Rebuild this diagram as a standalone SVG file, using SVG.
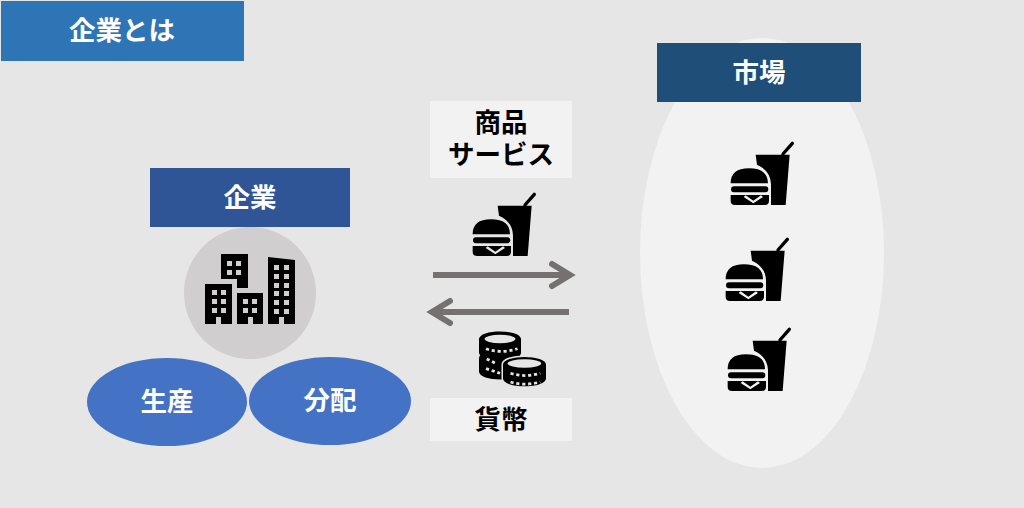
<svg xmlns="http://www.w3.org/2000/svg" width="1024" height="508" viewBox="0 0 1024 508">
<style>
text{font-family:"Noto Sans CJK JP","Noto Sans",sans-serif;font-size:26.500px;font-weight:700;text-anchor:middle}
.w{fill:#fff}.k{fill:#000}
.conn{fill:none;stroke:#767171;stroke-width:6;stroke-linejoin:miter}
.head{stroke-linecap:round}
.dash{fill:none;stroke:#e6e6e6;stroke-width:8;stroke-dasharray:9 8}
</style>
<defs>
<g id="meal" transform="scale(.3333)">
<path fill-rule="evenodd" d="M143 148Q143 103 198 103Q255 103 255 148ZM153 157H247Q256 157 256 166Q256 175 247 175H153Q144 175 144 166Q144 157 153 157ZM143 183H258V200Q258 213 245 213H156Q143 213 143 200ZM188 184L211 200L234 184L240 189L211 208L182 189Z"/>
<path d="M218 62H320L308 213H264V150Q262 110 222 92Z"/>
<path d="M300 60L328 28" fill="none" stroke="#000" stroke-width="10" stroke-linecap="round"/>
</g>
<path id="coin" d="M-60 0C-60 -30 60 -30 60 0V38C60 68 -60 68 -60 38Z"/>
</defs>
<rect width="1024" height="508" fill="#e6e6e6"/>
<ellipse id="market-area" cx="762" cy="253" rx="122" ry="215" fill="#f2f2f2"/>
<g id="title"><rect x="1" y="1" width="243" height="60" fill="#2e75b6"/><text class="w" x="122" y="40">企業とは</text></g>
<g id="market"><rect x="657" y="43" width="204" height="59" fill="#1f4e79"/><text class="w" x="759" y="82">市場</text></g>
<g id="market-icons">
<use href="#meal" transform="translate(683,134)"/>
<use href="#meal" transform="translate(678,230)"/>
<use href="#meal" transform="translate(680,320)"/>
</g>
<g id="company"><rect x="150" y="168" width="200" height="59" fill="#2f5597"/><text class="w" x="250" y="207">企業</text></g>
<g id="building">
<circle cx="250" cy="293" r="66" fill="#d0cece"/>
<path d="M221 254H248V288H237V279H221Z"/>
<path d="M205 284H232V324H221V317H216V324H205Z"/>
<path d="M237 293H263V324H253V317H248V324H237Z"/>
<path d="M268 257L295 260V324H284V317H279V324H268Z"/>
<g fill="#d0cece">
<rect x="227" y="261" width="5" height="5"/><rect x="236" y="261" width="5" height="5"/><rect x="227" y="270" width="5" height="5"/><rect x="236" y="270" width="5" height="5"/>
<rect x="212" y="290" width="5" height="5"/><rect x="221" y="290" width="5" height="5"/><rect x="212" y="299" width="5" height="5"/><rect x="221" y="299" width="5" height="5"/><rect x="212" y="308" width="5" height="5"/><rect x="221" y="308" width="5" height="5"/>
<rect x="243" y="299" width="5" height="5"/><rect x="252" y="299" width="5" height="5"/><rect x="243" y="308" width="5" height="5"/><rect x="252" y="308" width="5" height="5"/>
<rect x="274" y="265" width="5" height="5"/><rect x="284" y="265" width="5" height="5"/><rect x="274" y="274" width="5" height="5"/><rect x="284" y="274" width="5" height="5"/><rect x="274" y="283" width="5" height="5"/><rect x="284" y="283" width="5" height="5"/><rect x="274" y="291" width="5" height="5"/><rect x="284" y="291" width="5" height="5"/><rect x="274" y="300" width="5" height="5"/><rect x="284" y="300" width="5" height="5"/><rect x="274" y="309" width="5" height="5"/><rect x="284" y="309" width="5" height="5"/>
</g>
</g>
<g id="production"><ellipse cx="167" cy="402" rx="80" ry="44" fill="#4472c4"/><text class="w" x="167" y="411">生産</text></g>
<g id="distribution"><ellipse cx="330" cy="401" rx="81" ry="44" fill="#4472c4"/><text class="w" x="330" y="410">分配</text></g>
<g id="goods"><rect x="430" y="101" width="142" height="77" fill="#f2f2f2"/><text class="k"><tspan x="501" y="132">商品</tspan><tspan x="501" y="164">サービス</tspan></text></g>
<use id="goods-icon" href="#meal" transform="translate(425,185)"/>
<g id="connectors">
<path class="conn" d="M433 275H567"/><path class="conn head" d="M552 264L570 275L552 286"/>
<path class="conn" d="M569 312H435"/><path class="conn head" d="M450 301L432 312L450 323"/>
</g>
<g id="coins" transform="translate(468.500,322.500) scale(.35)">
<use href="#coin" transform="translate(90,102)"/>
<use href="#coin" transform="translate(90,48)"/>
<use href="#coin" transform="translate(160,120) scale(1.06)" stroke="#e6e6e6" stroke-width="4"/>
<ellipse cx="90" cy="47" rx="44" ry="12" fill="#e6e6e6"/>
<ellipse cx="160" cy="117" rx="48" ry="12" fill="#e6e6e6"/>
<path class="dash" d="M50 75Q90 90 140 75"/>
<path class="dash" d="M52 104L76 116"/>
<path class="dash" d="M50 132L90 145"/>
<path class="dash" d="M120 145Q160 158 205 145"/>
<path class="dash" d="M120 170Q160 182 205 170"/>
</g>
<g id="currency"><rect x="430" y="398" width="142" height="43" fill="#f2f2f2"/><text class="k" x="501" y="429">貨幣</text></g>
</svg>
